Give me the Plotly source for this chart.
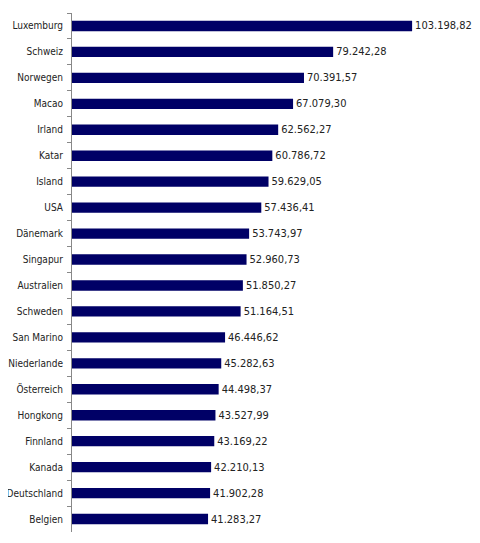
import plotly.graph_objects as go

countries = ["Luxemburg", "Schweiz", "Norwegen", "Macao", "Irland", "Katar", "Island", "USA",
             "Dänemark", "Singapur", "Australien", "Schweden", "San Marino", "Niederlande",
             "Österreich", "Hongkong", "Finnland", "Kanada", "Deutschland", "Belgien"]
values = [103198.82, 79242.28, 70391.57, 67079.30, 62562.27, 60786.72, 59629.05, 57436.41,
          53743.97, 52960.73, 51850.27, 51164.51, 46446.62, 45282.63, 44498.37, 43527.99,
          43169.22, 42210.13, 41902.28, 41283.27]

def de_fmt(v):
    s = f"{v:,.2f}"
    return s.replace(",", "X").replace(".", ",").replace("X", ".")

labels = [de_fmt(v) for v in values]

FONT = "DejaVu Sans Condensed, Liberation Sans Narrow, sans-serif"

fig = go.Figure(go.Bar(
    x=values, y=countries, orientation="h",
    marker=dict(color="#000066", line=dict(width=0)),
    text=labels, textposition="outside", cliponaxis=False, constraintext="none",
    textfont=dict(family=FONT, size=11, color="#222222"),
    width=0.4,
))

fig.update_layout(
    width=472, height=535,
    margin=dict(l=64, r=0, t=5, b=11),
    paper_bgcolor="white", plot_bgcolor="white",
    showlegend=False,
    font=dict(family=FONT, size=10, color="#222222"),
)
fig.update_xaxes(range=[0, 123800], visible=False, showgrid=False, zeroline=False, automargin=False)
fig.update_yaxes(autorange="reversed", showline=True, linecolor="#888888", linewidth=1,
                 ticks="outside", ticklen=4, tickcolor="#888888", tickson="boundaries",
                 showgrid=False, ticklabelstandoff=6, automargin=False,
                 tickfont=dict(family=FONT, size=10, color="#222222"))

fig.write_html("out.html")
